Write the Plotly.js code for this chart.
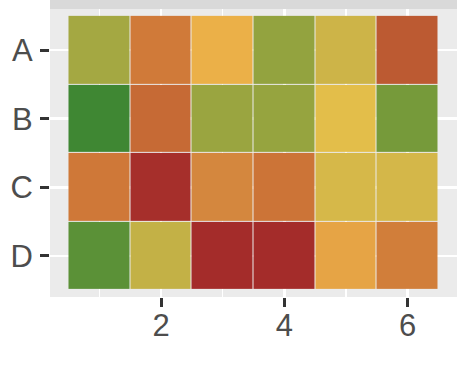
<!DOCTYPE html>
<html>
<head>
<meta charset="utf-8">
<script src="https://cdn.plot.ly/plotly-3.0.1.min.js"></script>
<style>html,body{margin:0;padding:0;background:#fff;}#chart{width:474px;height:375px;}</style>
</head>
<body>
<div id="chart"></div>
<script>
// Data
const columns = [1, 2, 3, 4, 5, 6];
const rows = ['A', 'B', 'C', 'D'];
const rowA = [78, 31, 54, 82, 70, 15];
const rowB = [100, 23, 80, 81, 60, 90];
const rowC = [30, 1, 40, 28, 66, 67];
const rowD = [95, 72, 0, 0, 48, 34];
const xTicks = [2, 4, 6];

const colorscale = [
  [0.00, '#A42C2A'],
  [0.15, '#BC5A32'],
  [0.30, '#CF7838'],
  [0.40, '#D4873E'],
  [0.48, '#E6A445'],
  [0.54, '#EBB048'],
  [0.60, '#E3BE4A'],
  [0.70, '#CDB448'],
  [0.80, '#9AA540'],
  [0.90, '#769A3A'],
  [1.00, '#3F8733']
];

const trace = {
  type: 'heatmap',
  x: columns,
  y: rows,
  z: [rowA, rowB, rowC, rowD],
  zmin: 0,
  zmax: 100,
  colorscale: colorscale,
  showscale: false,
  xgap: 1,
  ygap: 1,
  hoverinfo: 'skip'
};

const tickFont = {family: 'Liberation Sans, Arial, sans-serif', size: 31, color: '#4D4D4D'};

const layout = {
  width: 474,
  height: 375,
  margin: {l: 50, r: 17, t: 9, b: 78},
  paper_bgcolor: '#FFFFFF',
  plot_bgcolor: '#EBEBEB',
  showlegend: false,
  xaxis: {
    range: [0.2, 6.8],
    tickvals: xTicks,
    ticktext: xTicks.map(String),
    ticks: 'outside',
    ticklen: 9,
    tickwidth: 3,
    tickcolor: '#333333',
    tickfont: tickFont,
    ticklabelstandoff: -8,
    showgrid: true,
    gridcolor: '#FFFFFF',
    gridwidth: 2.5,
    minor: {tickvals: [1, 3, 5], showgrid: true, gridcolor: '#FFFFFF', gridwidth: 1.3, ticks: ''},
    zeroline: false,
    showline: false,
    fixedrange: true
  },
  yaxis: {
    type: 'category',
    categoryorder: 'array',
    categoryarray: rows,
    range: [3.6, -0.6],
    ticks: 'outside',
    ticklen: 9,
    tickwidth: 3,
    tickcolor: '#333333',
    tickfont: tickFont,
    ticklabelstandoff: 1,
    showgrid: true,
    gridcolor: '#FFFFFF',
    gridwidth: 2.5,
    zeroline: false,
    showline: false,
    fixedrange: true
  },
  shapes: [{
    type: 'rect', xref: 'paper', yref: 'paper',
    x0: 0, x1: 1, y0: 1, y1: 1 + 9 / 288,
    fillcolor: '#D9D9D9', line: {width: 0}, layer: 'below'
  }]
};

Plotly.newPlot('chart', [trace], layout, {displayModeBar: false, staticPlot: true});
</script>
</body>
</html>
